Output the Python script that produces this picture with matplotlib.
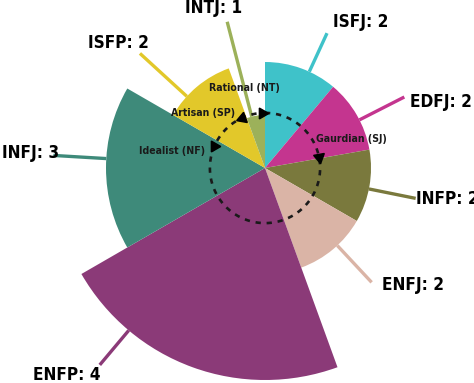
import numpy as np
import matplotlib
matplotlib.use("Agg")
import matplotlib.pyplot as plt
from matplotlib import font_manager

# data: MBTI types, clockwise from 12 o'clock
types = ["ISFJ", "EDFJ", "INFP", "ENFJ", "ENFP", "INFJ", "ISFP", "INTJ"]
counts = [2, 2, 2, 2, 4, 3, 2, 1]
colors = ["#3fc2c9", "#c4358f", "#7a793d", "#dab4a6",
          "#8b3a78", "#3e8a7a", "#e2c82a", "#9cb15a"]

# temperament groups
groups = ["Rational (NT)", "Artisan (SP)", "Idealist (NF)", "Gaurdian (SJ)"]


# look for a narrow/condensed font file, else plain DejaVu
def find_font(keys):
    files = font_manager.findSystemFonts() + [f.fname for f in font_manager.fontManager.ttflist]
    for k in keys:
        for f in files:
            base = f.replace("\\", "/").split("/")[-1].lower().replace(" ", "").replace("_", "")
            if base.startswith(k):
                return f
    return None


bold_file = find_font(["notosans-extracondensedextrabold.", "notosans-extracondensedbold.",
                       "notosans-condensedextrabold.", "notosans-condensedbold.",
                       "liberationsansnarrow-bold.", "dejavusanscondensed-bold.",
                       "robotocondensed-bold."])
if bold_file:
    fp_big = font_manager.FontProperties(fname=bold_file, size=12.3)
    fp_small = font_manager.FontProperties(fname=bold_file, size=7.6)
else:
    fp_big = font_manager.FontProperties(family="DejaVu Sans", weight="bold", size=11)
    fp_small = font_manager.FontProperties(family="DejaVu Sans", weight="bold", size=7)

W, H = 474, 383
fig = plt.figure(figsize=(W / 100, H / 100), dpi=100)

# polar axes centred at (265, 168) px, 53 px per count
cx, cy, scale = 265, 168, 53
rmax = 4.05
R = rmax * scale
ax = fig.add_axes([(cx - R) / W, (H - cy - R) / H, 2 * R / W, 2 * R / H],
                  projection="polar")
ax.set_theta_zero_location("N")
ax.set_theta_direction(-1)
ax.set_ylim(0, rmax)
ax.axis("off")

# wedges: angular width and radius both proportional to the count
total = sum(counts)
widths = np.array(counts) / total * 2 * np.pi
starts = np.concatenate([[0], np.cumsum(widths)[:-1]])
ax.bar(starts, counts, width=widths, align="edge", color=colors,
       edgecolor="none", linewidth=0)

# dashed circle with arrowheads at the group boundaries
rc = 1.04
t = np.linspace(0, 2 * np.pi, 400)
ax.plot(t, np.full_like(t, rc), color="#1a1a1a", lw=1.9,
        linestyle=(0, (2.0, 2.2)), zorder=3)
arrow_deg = [-3, 78, 335, 293]
arrow_rot = [-90, -170, 110, 150]
for a, rot in zip(arrow_deg, arrow_rot):
    ax.plot(np.deg2rad(a), rc, marker=(3, 0, rot), markersize=9,
            color="black", zorder=4)

# leader lines (angle, outer r)
lead_ang = [24.7, 63.0, 101.4, 137.0, 220.0, 273.4, 312.5, 345.5]
lead_out = [2.8, 2.95, 2.9, 2.95, 4.85, 4.0, 3.2, 2.85]
for ang, n, ro, c in zip(lead_ang, counts, lead_out, colors):
    th = np.deg2rad(ang)
    ax.plot([th, th], [n, ro], color=c, lw=2.4, solid_capstyle="butt",
            clip_on=False, zorder=2)

# outer labels (pixel position of left edge / vertical centre)
label_xy = [(333, 22), (410, 102), (416, 199), (382, 285),
            (33, 375), (2, 153), (88, 43), (185, 8)]
for name, n, (x, y) in zip(types, counts, label_xy):
    fig.text(x / W, 1 - y / H, f"{name}: {n}", ha="left", va="center",
             fontproperties=fp_big, color="black")

# group labels
group_xy = [(244, 88), (203, 113), (172, 151), (351, 139)]
for g, (x, y) in zip(groups, group_xy):
    fig.text(x / W, 1 - y / H, g, ha="center", va="center",
             fontproperties=fp_small, color="#1a1a1a")

fig.savefig("out.png", dpi=100)
